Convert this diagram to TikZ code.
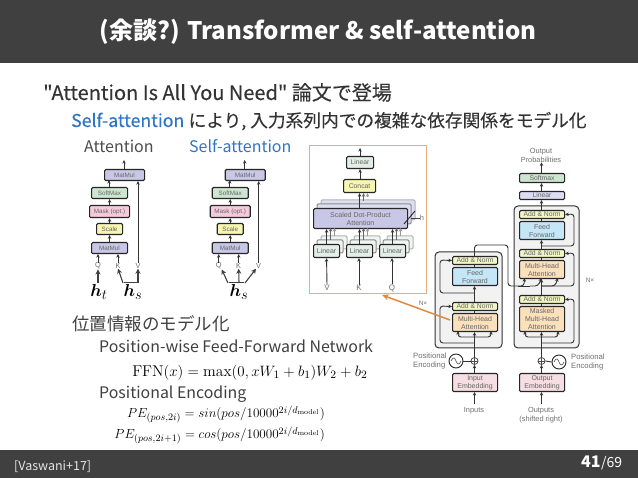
\documentclass[tikz,border=0pt]{standalone}
\usepackage{amsmath,bm}
\usepackage{fontspec}
\usetikzlibrary{arrows.meta,calc}
\newfontfamily\jpb{Noto Sans CJK JP}
\newfontfamily\jp[RawFeature={embolden=0.2}]{Noto Sans CJK JP}
\newfontfamily\dg{Liberation Sans}
\definecolor{hdr}{HTML}{404040}
\definecolor{selfblue}{HTML}{2E75C6}
\definecolor{txt}{HTML}{333333}
\definecolor{lbl}{HTML}{707070}
\definecolor{orng}{HTML}{E08A3C}
\definecolor{cLav}{HTML}{C9C7E6}
\definecolor{cLav2}{HTML}{DCDCF2}
\definecolor{cGreen}{HTML}{CDE6D0}
\definecolor{cPink}{HTML}{F6CADA}
\definecolor{cPink2}{HTML}{F6DEE4}
\definecolor{cYel}{HTML}{F7F5B2}
\definecolor{cAdd}{HTML}{F1F6C4}
\definecolor{cBlue}{HTML}{C4E6F6}
\definecolor{cOr}{HTML}{FBE0BC}
\definecolor{cLin}{HTML}{E4EEE8}
\definecolor{cGrp}{HTML}{F2F2F2}
\tikzset{
 x=1pt,y=-1pt,
 head/.style={font=\jpb\bfseries\fontsize{24.1}{28}\selectfont,text=white,inner sep=0},
 tline/.style={anchor=base west,inner sep=0,text=txt,font=\jp},
 blk/.style={draw=black!85,line width=1.1pt,rounded corners=1.2pt,inner sep=0,align=center,text=black!60,font=\dg\fontsize{6.5}{7.6}\selectfont},
 btx/.style={text=black!60,font=\dg\fontsize{6.8}{7}\selectfont,inner sep=0},
 stx/.style={text=black!60,font=\dg\fontsize{6.3}{7}\selectfont,inner sep=0},
 arr/.style={-{Stealth[length=3.6pt,width=3.4pt]},line width=0.9pt,draw=black!80},
 ln/.style={line width=0.9pt,draw=black!80},
 lab/.style={inner sep=0,align=center,text=lbl,font=\dg\fontsize{7.4}{9}\selectfont},
 bigarr/.style={-{Stealth[length=5pt,width=5pt]},line width=1.1pt,draw=black!75},
 two/.style={font=\dg\fontsize{7}{8}\selectfont},
}
\newcommand{\bx}[6]{\node[blk,fill=#6,minimum width=#3-#1,minimum height=#4-#2,anchor=north west] (#5) at (#1,#2) {};}
\begin{document}
\begin{tikzpicture}
\useasboundingbox (0,0) rectangle (638,478);
\fill[white] (0,0) rectangle (638,478);
\fill[hdr] (0,0) rectangle (638,63);
\fill[hdr] (0,450) rectangle (638,478);
\node[head] (title) at (318,31.5) {(余談?) Transformer \& self-attention};
\node[tline,font=\jp\fontsize{20}{24}\selectfont] (l1) at (43,100) {"Attention Is All You Need" 論文で登場};
\node[tline,text=selfblue,font=\jp\fontsize{17.7}{22}\selectfont] (l2a) at (71,127) {Self-attention};
\node[tline,font=\jp\fontsize{17.7}{22}\selectfont] (l2b) at (l2a.base east) {\ により, 入力系列内での複雑な依存関係をモデル化};
\node[tline,text=black!70,font=\jpb\fontsize{16}{20}\selectfont] (at1) at (84,153) {Attention};
\node[tline,text=selfblue,font=\jpb\fontsize{16}{20}\selectfont] (at2) at (189,153) {Self-attention};
\node[tline,text=black!75,font=\jpb\fontsize{17.5}{20}\selectfont] (l3) at (72,331) {位置情報のモデル化};
\node[tline,text=black!75,font=\jpb\fontsize{15.9}{20}\selectfont] (l4) at (99,353) {Position-wise Feed-Forward Network};
\node[tline,text=black!75,font=\jpb\fontsize{15.9}{20}\selectfont] (l5) at (99,399) {Positional Encoding};
\node[inner sep=0,anchor=base west,scale=1.25,font=\fontsize{12.5}{15}\selectfont] (f1) at (132,376.5) {$\mathrm{FFN}(x)=\max(0,xW_1+b_1)W_2+b_2$};
\node[inner sep=0,anchor=base east,scale=1.094,font=\fontsize{13}{15}\selectfont] (f2) at (325,418) {$PE_{(pos,2i)}=sin(pos/10000^{2i/d_{\mathrm{model}}})$};
\node[inner sep=0,anchor=base east,scale=1.094,font=\fontsize{13}{15}\selectfont] (f3) at (325,439) {$PE_{(pos,2i+1)}=cos(pos/10000^{2i/d_{\mathrm{model}}})$};
\node[anchor=base west,inner sep=0,text=white!90!black,font=\jpb\fontsize{12.5}{15}\selectfont] (cite) at (14,471) {[Vaswani+17]};
\node[anchor=base west,inner sep=0,text=white,font=\jpb\bfseries\fontsize{16}{18}\selectfont] (pg) at (581,468) {41};
\node[anchor=base west,inner sep=0,text=white,font=\jpb\fontsize{14}{16}\selectfont] (pgt) at (pg.base east) {/69};
% scaled dot product (left and right)
\foreach \dx/\nm in {0/a,120.7/b}{
\begin{scope}[xshift=\dx pt]
\bx{104}{169}{144}{180}{m1\nm}{cLav}
\node[stx] at (m1\nm) {MatMul};
\bx{91}{187}{127}{198}{s1\nm}{cGreen}
\node[stx] at (s1\nm) {SoftMax};
\bx{89}{205}{129}{217}{k1\nm}{cPink}
\node[stx] at (k1\nm) {Mask (opt.)};
\bx{96}{223}{122}{234}{c1\nm}{cYel}
\node[stx] at (c1\nm) {Scale};
\bx{91}{242}{127}{253}{m2\nm}{cLav}
\node[stx] at (m2\nm) {MatMul};
\node[lab] (q\nm) at (98,266) {Q};
\node[lab] (kk\nm) at (118,266) {K};
\node[lab] (v\nm) at (138,266) {V};
\coordinate (o\nm) at (124,160);
\draw[arr] (m1\nm.north -| o\nm) -- (o\nm);
\draw[arr] (s1\nm.north -| o\nm) ++(-15,0) -- ++(0,-7);
\draw[arr] (k1\nm.north) -- (s1\nm.south);
\draw[arr] (c1\nm.north) -- (k1\nm.south);
\draw[arr] (m2\nm.north) -- (c1\nm.south);
\draw[arr] (q\nm.north) -- (q\nm.north |- m2\nm.south);
\draw[arr] (kk\nm.north) -- (kk\nm.north |- m2\nm.south);
\draw[arr] (v\nm.north) -- (v\nm.north |- m1\nm.south);
\end{scope}}
\node[inner sep=0,anchor=base,font=\fontsize{19}{20}\selectfont] (ht) at (99,297) {$\bm{h}_t$};
\node[inner sep=0,anchor=base,font=\fontsize{19}{20}\selectfont] (hs) at (133,297) {$\bm{h}_s$};
\node[inner sep=0,anchor=base,font=\fontsize{19}{20}\selectfont] (hs2) at (239,297) {$\bm{h}_s$};
\draw[bigarr] (98,283) -- (qa.south);
\draw[bigarr] (123,283) -- (kka.south);
\draw[bigarr] (138,283) -- (va.south);
\draw[line width=0.8pt,black!75] (124,282) -- (137,282);
\draw[bigarr] (228,283) -- (qb.south east);
\draw[bigarr] (239,283) -- (kkb.south);
\draw[bigarr] (245,283) -- (vb.south west);
\draw[line width=0.8pt,black!75] (229,282) -- (244,282);
% multi-head box
\draw[orng!70,line width=1pt] (309,146) rectangle (426,294);
\bx{346}{156}{373}{168}{ml}{cLin}
\node[btx] at (ml) {Linear};
\bx{343}{179}{375}{192}{mc}{cYel}
\node[btx] at (mc) {Concat};
\foreach \o/\c in {8/black!30,4/black!45}{
 \fill[fill=cLav!60,draw=\c,line width=1pt,rounded corners=1.2pt] (313+\o,208-\o) rectangle (407+\o,228-\o);
}
\node[blk,fill=cLav,minimum width=94,minimum height=20,anchor=north west,two,text=black!60] (sd) at (313,208) {Scaled Dot-Product\\Attention};
\foreach \xx/\nm in {313/a,346/b,379/c}{
 \foreach \o/\c in {8/black!30,4/black!45}{
  \fill[fill=cLin!60,draw=\c,line width=1pt,rounded corners=1.2pt] (\xx+\o,244-\o) rectangle (\xx+26+\o,257-\o);
 }
 \node[blk,fill=cLin,minimum width=26,minimum height=13,anchor=north west,two] (li\nm) at (\xx,244) {Linear};
 \draw[arr,black!40] ($(li\nm.north)+(8,-8)$) -- ++(0,-8);
 \draw[arr,black!60] ($(li\nm.north)+(4,-4)$) -- ++(0,-12);
 \draw[arr] (li\nm.north) -- (li\nm.north |- sd.south);
}
\node[lab,font=\dg\fontsize{8}{9}\selectfont] (vv) at (327,288) {V};
\node[lab,font=\dg\fontsize{8}{9}\selectfont] (kv) at (359,288) {K};
\node[lab,font=\dg\fontsize{8}{9}\selectfont] (qv) at (392,288) {Q};
\draw[arr] (vv.north) -- (lia.south);
\draw[arr] (kv.north) -- (kv.north |- lib.south);
\draw[arr] (qv.north) -- (qv.north |- lic.south);
\draw[arr] (sd.north -| mc) -- (mc.south);
\draw[arr,black!60] ($(mc.south)+(4,8)$) -- ++(0,-8);
\draw[arr,black!40] ($(mc.south)+(8,4)$) -- ++(0,-4);
\draw[arr] (mc.north -| ml) -- (ml.south);
\draw[arr] (ml.north) -- ++(0,-8);
\node[lab] (hh) at (422,218) {h};
\draw[line width=0.9pt,black!75] (hh.west) -- (411,218);
\draw[line width=0.9pt,black!85] (404,224) -- (415,211);
% full transformer
\draw[line width=1pt,black!80,fill=cGrp,rounded corners=4pt] (514,206) rectangle (579,348);
\draw[line width=1pt,black!80,fill=cGrp,rounded corners=4pt] (435,252) rectangle (502,348);
\node[lab] (op) at (541,155) {Output\\Probabilities};
\bx{519}{173}{564}{182}{sf}{cGreen}\node[btx] at (sf) {Softmax};
\bx{519}{191}{564}{199}{lr}{cLav2}\node[btx] at (lr) {Linear};
\bx{519}{210}{564}{218}{da1}{cAdd}\node[btx] at (da1) {Add \& Norm};
\node[blk,fill=cBlue,minimum width=45,minimum height=18,anchor=north west,two] (dff) at (519,221) {Feed\\Forward};
\bx{519}{249}{564}{257}{da2}{cAdd}\node[btx] at (da2) {Add \& Norm};
\node[blk,fill=cOr,minimum width=45,minimum height=18,anchor=north west,two] (dmh) at (519,260) {Multi-Head\\Attention};
\bx{519}{295}{564}{303}{da3}{cAdd}\node[btx] at (da3) {Add \& Norm};
\node[blk,fill=cOr,minimum width=45,minimum height=25,anchor=north west,two] (dmm) at (519,306) {Masked\\Multi-Head\\Attention};
\node[blk,fill=cPink2,minimum width=45,minimum height=18,anchor=north west,two] (dem) at (519,373) {Output\\Embedding};
\bx{452}{256}{497}{264}{ea1}{cAdd}\node[btx] at (ea1) {Add \& Norm};
\node[blk,fill=cBlue,minimum width=45,minimum height=18,anchor=north west,two] (eff) at (452,267) {Feed\\Forward};
\bx{452}{302}{497}{310}{ea2}{cAdd}\node[btx] at (ea2) {Add \& Norm};
\node[blk,fill=cOr,minimum width=45,minimum height=18,anchor=north west,two] (emh) at (452,313) {Multi-Head\\Attention};
\node[blk,fill=cPink2,minimum width=45,minimum height=18,anchor=north west,two] (eem) at (452,373) {Input\\Embedding};
\node[draw=black!80,line width=0.7pt,circle,minimum size=7,inner sep=0] (ep) at (474.5,361) {};
\node[draw=black!80,line width=0.7pt,circle,minimum size=7,inner sep=0] (dp) at (541.5,361) {};
\draw[line width=0.5pt,black!70] (ep.north)--(ep.south) (ep.west)--(ep.east) (dp.north)--(dp.south) (dp.west)--(dp.east);
\node[draw=black!85,line width=0.9pt,circle,minimum size=14,inner sep=0] (es) at (456,361) {};
\node[draw=black!85,line width=0.9pt,circle,minimum size=14,inner sep=0] (ds) at (559,362) {};
\foreach \s in {es,ds}{\draw[line width=0.6pt,black!70] ($(\s)+(-5,0)$) .. controls +(2,-5) and +(-1,-3) .. ($(\s)$) .. controls +(1,3) and +(-2,5) .. ($(\s)+(5,0)$);}
\draw[ln] (es.east) -- (ep.west);
\draw[ln] (ds.west) -- (dp.east);
\node[lab,font=\dg\fontsize{7.7}{9.5}\selectfont,align=left,anchor=west] (pel) at (413,361) {Positional\\Encoding};
\node[lab,font=\dg\fontsize{7.7}{9.5}\selectfont,align=left,anchor=west] (per) at (571,362) {Positional\\Encoding};
\node[lab] (inp) at (474,411) {Inputs};
\node[lab] (outp) at (541,415.5) {Outputs\\(shifted right)};
\node[lab,font=\dg\fontsize{6.5}{7}\selectfont] (nl) at (423,303) {N×};
\node[lab,font=\dg\fontsize{6.5}{7}\selectfont] (nr) at (590,280) {N×};
% vertical arrows
\draw[arr] (dem.north -| dp) -- (dp.south);
\draw[arr] (eem.north -| ep) -- (ep.south);
\draw[arr] (474.5,404) -- (474.5,392);
\draw[arr] (541.5,404) -- (541.5,392);
\draw[arr] (dp.north) -- (dp.north |- dmm.south);
\draw[arr] (ep.north) -- (ep.north |- emh.south);
\draw[ln] (dmm.north -| dp) -- (da3.south -| dp);
\draw[ln] (emh.north -| ep) -- (ea2.south -| ep);
\draw[arr] (da3.north -| dp) -- (dmh.south -| dp);
\draw[ln] (dmh.north -| dp) -- (da2.south -| dp);
\draw[arr] (da2.north -| dp) -- (dff.south -| dp);
\draw[ln] (dff.north -| dp) -- (da1.south -| dp);
\draw[arr] (da1.north -| dp) -- (lr.south -| dp);
\draw[arr] (lr.north -| dp) -- (sf.south -| dp);
\draw[arr] (sf.north -| dp) -- (op.south -| dp);
\draw[arr] (ea2.north -| ep) -- (eff.south -| ep);
\draw[ln] (eff.north -| ep) -- (ea1.south -| ep);
% residuals
\tikzset{res/.style={arr,rounded corners=3pt}}
\draw[res] (541.5,343) -- (574,343) -- (574,299) -- (da3.east);
\draw[res] (541.5,286) -- (574,286) -- (574,253) -- (da2.east);
\draw[res] (541.5,246) -- (574,246) -- (574,214) -- (da1.east);
\draw[res] (474.5,343) -- (440,343) -- (440,306) -- (ea2.west);
\draw[res] (474.5,293) -- (440,293) -- (440,260) -- (ea1.west);
% encoder output
\draw[ln,rounded corners=3pt] (ea1.north -| ep) -- (474.5,245) -- (508,245) -- (508,286) -- (518,286);
\draw[arr,rounded corners=3pt] (518,286) -- (524,286) -- (524.5,278);
\draw[arr,rounded corners=3pt] (530,286) -- (538,286) -- (541.5,278);
\draw[ln] (518,286) -- (530,286);
\draw[arr,rounded corners=3pt] (541.5,286) -- (555,286) -- (558,278);
% self attention forks
\draw[arr,rounded corners=3pt] (474.5,337) -- (458,337) -- (458,331);
\draw[arr,rounded corners=3pt] (474.5,337) -- (491,337) -- (491,331);
\draw[arr,rounded corners=3pt] (541.5,337) -- (525,337) -- (525,331);
\draw[arr,rounded corners=3pt] (541.5,337) -- (558,337) -- (558,331);
% orange pointer
\coordinate (pt) at (450,320);
\draw[orng,line width=1.5pt,-{Stealth[length=7pt,width=6pt]}] (pt) -- (382,295);
\end{tikzpicture}
\end{document}
